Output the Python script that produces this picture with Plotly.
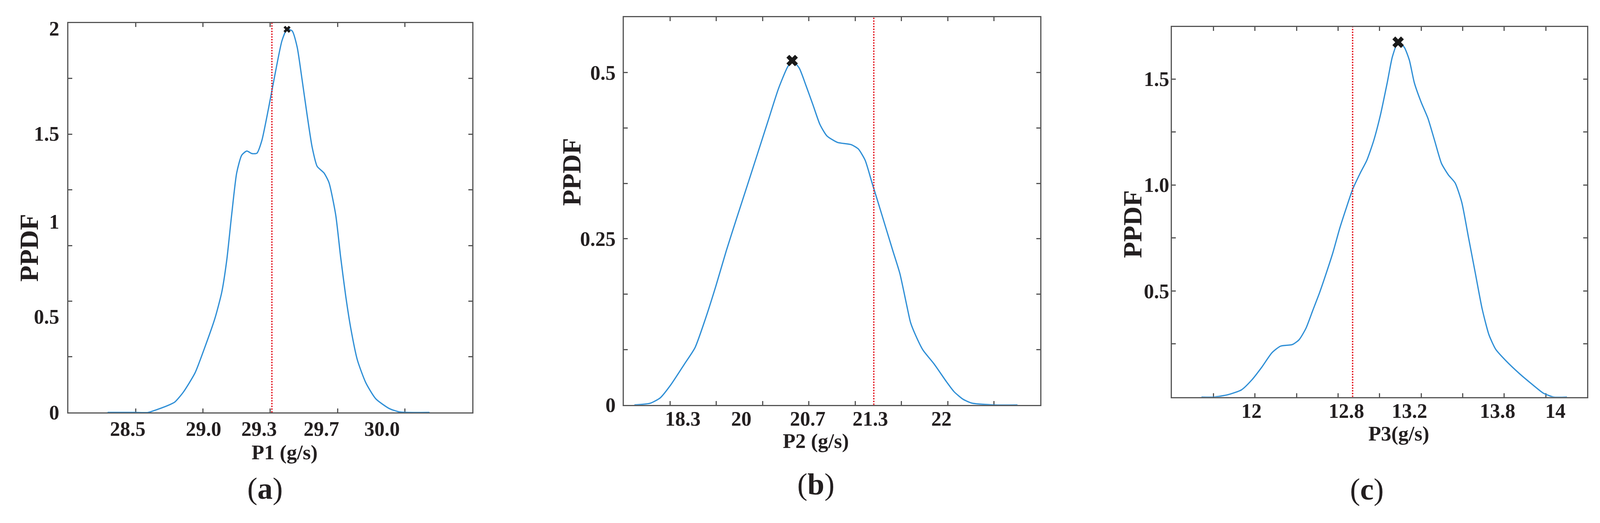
import numpy as np
import plotly.graph_objects as go

W, H = 4265, 1338

# ---------------- data: panel (a) P1 ----------------
a_x = [28.40, 28.564, 28.640, 28.759, 28.799, 28.849, 28.919, 28.978, 29.038, 29.078, 29.108,
       29.137, 29.167, 29.197, 29.227, 29.257, 29.287, 29.316, 29.356, 29.396, 29.436,
       29.466, 29.496, 29.526, 29.555, 29.585, 29.615, 29.645, 29.685, 29.715, 29.755,
       29.784, 29.814, 29.844, 29.884, 29.934, 29.993, 30.073, 30.133, 30.312]
a_y = [0.0, 0.0, 0.0, 0.036, 0.053, 0.103, 0.202, 0.335, 0.484, 0.616, 0.782,
       1.014, 1.230, 1.321, 1.342, 1.329, 1.331, 1.395, 1.561, 1.743, 1.909,
       1.967, 1.959, 1.876, 1.710, 1.528, 1.362, 1.263, 1.230, 1.180, 1.014,
       0.799, 0.600, 0.434, 0.268, 0.152, 0.070, 0.020, 0.003, 0.0]
a_true = 29.376
a_xlabels = ["28.5", "29.0", "29.3", "29.7", "30.0"]
a_xlabel_pos = [28.52, 28.97, 29.30, 29.67, 30.03]
a_ylabels = ["0", "0.5", "1", "1.5", "2"]
a_ylabel_pos = [0.0, 0.492, 0.981, 1.432, 1.971]

# ---------------- data: panel (b) P2 ----------------
b_x = [18.931, 19.087, 19.190, 19.295, 19.433, 19.537, 19.642, 19.745, 19.850, 19.953,
       20.058, 20.162, 20.266, 20.370, 20.457, 20.508, 20.578, 20.647, 20.717, 20.786,
       20.855, 20.960, 21.098, 21.168, 21.237, 21.306, 21.376, 21.445, 21.514, 21.584,
       21.653, 21.691, 21.740, 21.815, 21.927, 22.051, 22.126, 22.216, 22.302, 22.527, 22.760]
b_y = [0.0, 0.0024, 0.0107, 0.0302, 0.0618, 0.0861, 0.1299, 0.1786, 0.2321, 0.2807,
       0.3294, 0.3780, 0.4267, 0.4753, 0.5069, 0.5181, 0.5069, 0.4802, 0.4510, 0.4218,
       0.4048, 0.3950, 0.3916, 0.3853, 0.3683, 0.3343, 0.3002, 0.2661, 0.2321, 0.1980,
       0.1500, 0.1242, 0.1054, 0.0826, 0.0615, 0.0347, 0.0199, 0.0085, 0.0028, 0.0, 0.0]
b_true = 21.324
b_xlabels = ["18.3", "20", "20.7", "21.3", "22"]
b_xlabel_pos = [19.415, 20.0, 20.664, 21.289, 22.0]
b_ylabels = ["0", "0.25", "0.5"]
b_ylabel_pos = [0.0, 0.25, 0.5]

# ---------------- data: panel (c) P3 ----------------
c_x = [11.841, 11.927, 12.016, 12.106, 12.173, 12.240, 12.308, 12.364, 12.442, 12.487,
       12.532, 12.577, 12.622, 12.666, 12.711, 12.756, 12.801, 12.841, 12.891, 12.935,
       12.980, 13.025, 13.070, 13.104, 13.142, 13.182, 13.216, 13.249, 13.294, 13.339,
       13.384, 13.429, 13.474, 13.519, 13.563, 13.608, 13.653, 13.698, 13.743, 13.788,
       13.855, 13.945, 14.034, 14.102, 14.169, 14.259]
c_y = [0.0, 0.0, 0.0107, 0.0336, 0.0793, 0.1403, 0.2090, 0.2395, 0.2471, 0.2700,
       0.3234, 0.4073, 0.4911, 0.5827, 0.6818, 0.7962, 0.8954, 0.9792, 1.0555, 1.1165,
       1.2080, 1.3301, 1.4826, 1.6046, 1.6733, 1.6504, 1.5894, 1.4826, 1.3911, 1.3148,
       1.2080, 1.1013, 1.0479, 1.0097, 0.9182, 0.7504, 0.5827, 0.4149, 0.2929, 0.2242,
       0.1708, 0.1098, 0.0564, 0.0183, 0.0, 0.0]
c_true = 12.841
c_xlabels = ["12", "12.8", "13.2", "13.8", "14"]
c_xlabel_pos = [12.172, 12.8, 13.217, 13.8, 14.182]
c_ylabels = ["0.5", "1.0", "1.5"]
c_ylabel_pos = [0.5, 1.0, 1.5]

x_titles = ["P1 (g/s)", "P2 (g/s)", "P3(g/s)"]
panel_tags = ["a", "b", "c"]

# ---------------- layout config ----------------
panels = [
    dict(x=a_x, y=a_y, true=a_true, xl=a_xlabels, xlp=a_xlabel_pos, yl=a_ylabels, ylp=a_ylabel_pos,
         box=(182, 47, 1259, 1076), xr=(28.167, 30.566), nx=6, yr=(0, 2.0),
         yticks=list(np.linspace(0, 2.0, 8)[1:-1]), msize=16, ystand=22, xstand=7,
         ytitle=(77, 641), xtitle=(759, 1182), tag=(707, 1277)),
    dict(x=b_x, y=b_y, true=b_true, xl=b_xlabels, xlp=b_xlabel_pos, yl=b_ylabels, ylp=b_ylabel_pos,
         box=(1663, 32, 2773, 1056), xr=(18.826, 22.988), nx=9, yr=(0, 7 / 12),
         yticks=list(np.linspace(0, 7 / 12, 8)[1:-1]), msize=26, ystand=20, xstand=0,
         ytitle=(1524, 441), xtitle=(2175, 1152), tag=(2175, 1265)),
    dict(x=c_x, y=c_y, true=c_true, xl=c_xlabels, xlp=c_xlabel_pos, yl=c_ylabels, ylp=c_ylabel_pos,
         box=(3124, 58, 4231, 1035), xr=(11.646, 14.393), nx=10, yr=(0, 1.745),
         yticks=[0.25, 0.5, 0.75, 1.0, 1.25, 1.5], msize=26, ystand=6, xstand=0,
         ytitle=(3018, 578), xtitle=(3729, 1132), tag=(3644, 1279)),
]

TXT = "#231f20"
AX = "#555555"
BLUE = "#2f8fd6"
FONT = "Liberation Serif"

fig = go.Figure()
layout = dict(autosize=True, margin=dict(l=0, r=0, t=0, b=0),
              paper_bgcolor="white", plot_bgcolor="white", showlegend=False,
              annotations=[])

for i, p in enumerate(panels):
    k = i + 1
    kx = "" if k == 1 else str(k)
    ko = str(k + 3)
    l, t, r, b = p["box"]
    xdom = [l / W, r / W]
    ydom = [1 - b / H, 1 - t / H]

    # curve
    fig.add_trace(go.Scatter(x=p["x"], y=p["y"], mode="lines",
                             line=dict(color=BLUE, width=3.2, shape="spline", smoothing=0.6),
                             xaxis="x" + kx, yaxis="y" + kx, hoverinfo="skip"))
    # true value (red dotted)
    fig.add_trace(go.Scatter(x=[p["true"], p["true"]], y=[p["yr"][0], p["yr"][1]], mode="lines",
                             line=dict(color="#e3101a", width=3.5, dash="dot"),
                             xaxis="x" + kx, yaxis="y" + kx, hoverinfo="skip"))
    # peak marker
    j = int(np.argmax(p["y"]))
    fig.add_trace(go.Scatter(x=[p["x"][j]], y=[p["y"][j]], mode="markers",
                             marker=dict(symbol="x", size=p["msize"], color="#1a1a1a",
                                         line=dict(width=0)),
                             xaxis="x" + kx, yaxis="y" + kx, cliponaxis=False))
    # empty trace so that the label-axes subplot exists
    fig.add_trace(go.Scatter(x=[], y=[], mode="lines", xaxis="x" + ko, yaxis="y" + ko,
                             hoverinfo="skip"))

    xticks = list(np.linspace(p["xr"][0], p["xr"][1], p["nx"] + 1)[1:-1])
    common = dict(showgrid=False, zeroline=False)
    layout["xaxis" + kx] = dict(domain=xdom, range=list(p["xr"]), anchor="y" + kx,
                                tickmode="array", tickvals=xticks, ticks="inside", ticklen=10,
                                tickwidth=3, tickcolor=AX, showticklabels=False,
                                showline=True, linecolor=AX, linewidth=3, mirror="ticks",
                                layer="below traces", **common)
    layout["yaxis" + kx] = dict(domain=ydom, range=list(p["yr"]), anchor="x" + kx,
                                tickmode="array", tickvals=p["yticks"], ticks="inside", ticklen=10,
                                tickwidth=3, tickcolor=AX, showticklabels=False,
                                showline=True, linecolor=AX, linewidth=3, mirror="ticks",
                                layer="below traces", **common)
    # label axes (overlay)
    tf = dict(family=FONT, size=52, color=TXT, weight="bold")
    layout["xaxis" + ko] = dict(overlaying="x" + kx, anchor="y" + ko, side="bottom",
                                range=list(p["xr"]), tickmode="array", tickvals=p["xlp"],
                                ticktext=p["xl"], ticks="", showline=False, tickfont=tf,
                                ticklabelstandoff=p["xstand"], **common)
    layout["yaxis" + ko] = dict(overlaying="y" + kx, anchor="x" + ko, side="left",
                                range=list(p["yr"]), tickmode="array", tickvals=p["ylp"],
                                ticktext=p["yl"], ticks="", showline=False, tickfont=tf,
                                ticklabelstandoff=p["ystand"], **common)

    # texts
    tx, ty = p["ytitle"]
    layout["annotations"].append(dict(text="<b>PPDF</b>", x=tx / W, y=1 - ty / H, xref="paper",
                                      yref="paper", showarrow=False, textangle=-90,
                                      xanchor="center", yanchor="middle",
                                      font=dict(family=FONT, size=68, color=TXT)))
    tx, ty = p["xtitle"]
    layout["annotations"].append(dict(text="<b>" + x_titles[i] + "</b>", x=tx / W, y=1 - ty / H,
                                      xref="paper", yref="paper", showarrow=False,
                                      xanchor="center", yanchor="middle",
                                      font=dict(family=FONT, size=53, color=TXT)))
    tx, ty = p["tag"]
    layout["annotations"].append(dict(text="(<b>" + panel_tags[i] + "</b>)", x=tx / W, y=1 - ty / H,
                                      xref="paper", yref="paper", showarrow=False,
                                      xanchor="center", yanchor="middle",
                                      font=dict(family=FONT, size=78, color=TXT)))

fig.update_layout(**layout)
fig.write_html(
    "out.html",
    config={"displayModeBar": False},
    default_width="100vw",
    default_height="100vh",
    post_script=("document.body.style.margin='0';"
                 "document.documentElement.style.overflow='hidden';"
                 "document.body.style.overflow='hidden';"),
)
